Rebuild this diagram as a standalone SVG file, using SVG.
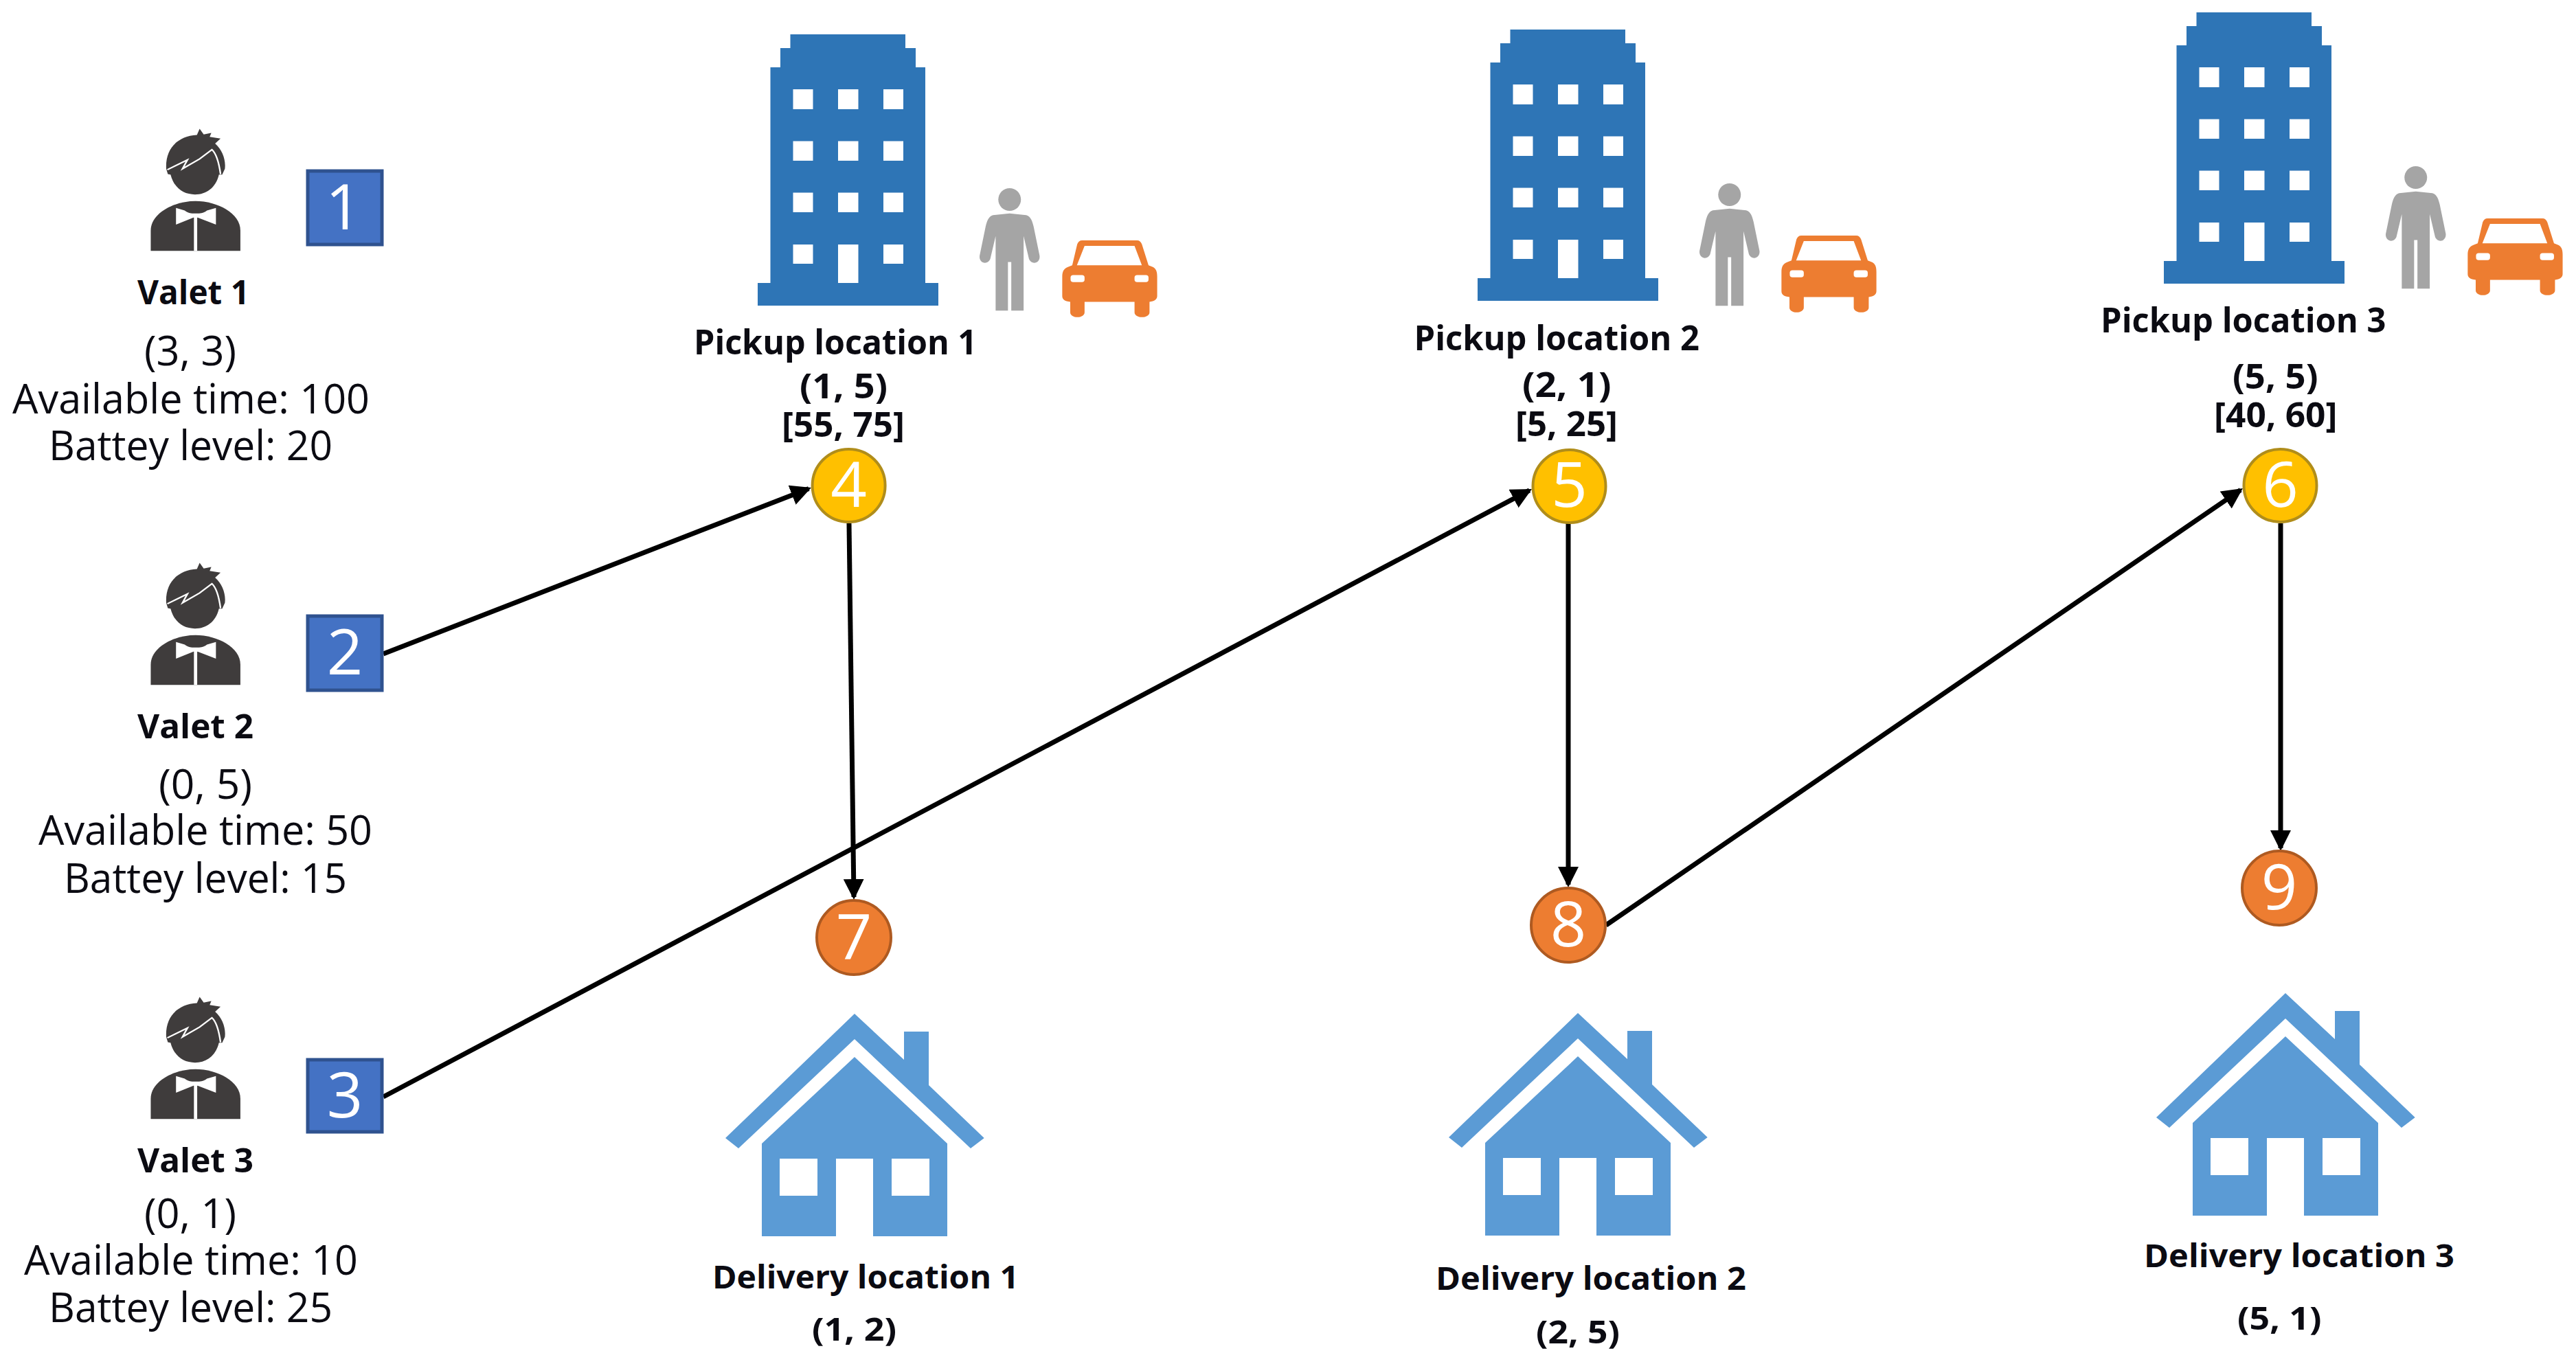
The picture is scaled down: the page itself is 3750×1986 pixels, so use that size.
<svg xmlns="http://www.w3.org/2000/svg" xmlns:xlink="http://www.w3.org/1999/xlink" width="3750" height="1986" viewBox="0 0 3750 1986">
<style>
text{font-family:"Open Sans","Noto Sans","Liberation Sans",sans-serif;fill:#0b0b12}
.r{font-size:61px}
.b{font-size:50px;font-weight:700}
.d{font-size:47px;font-weight:700}
.v{font-size:48px;font-weight:700}
.n{font-size:92px;fill:#fff;text-anchor:middle}
.sq{fill:#4472C4;stroke:#2F528F;stroke-width:5}
.y{fill:#FFC000;stroke:#B08D1A;stroke-width:4}
.o{fill:#ED7D31;stroke:#AE5A21;stroke-width:4}
.c{stroke:#000;stroke-width:7;fill:none;marker-end:url(#ah)}
</style>
<defs>
<marker id="ah" markerUnits="userSpaceOnUse" viewBox="0 0 30 30" refX="26" refY="15" markerWidth="30" markerHeight="30" orient="auto"><path d="M0 0L30 15L0 30Z" fill="#000"/></marker>
<g id="valet" transform="translate(0,150) scale(.3954,.3571)">
<path fill="#3F3C3C" d="M612 268C608 190 650 135 725 130L735 105L750 128L778 122L772 138L812 145L792 165C818 190 832 230 828 268L818 292L806 292C795 345 760 373 718 373C675 373 640 345 628 292L618 290Z"/>
<path fill="none" stroke="#fff" stroke-width="6" d="M616 272L690 232L672 268L735 228L780 190C795 205 805 235 812 290"/>
<path fill="#3F3C3C" d="M555 603L555 520C555 450 640 400 720 400C800 400 885 450 885 520L885 603Z"/>
<path fill="#fff" d="M648 428L680 438C695 450 705 450 714 450L714 466L648 496ZM795 428L762 438C748 450 735 450 726 450L726 466L795 496ZM714 450H726V603H714Z"/>
</g>
<g id="bld"><path fill="#2E75B6" fill-rule="evenodd" d="M1150.5 50H1318V70H1333V98H1347V412H1366V445H1103V412H1121.5V98H1136V70H1150.5ZM1154.5 130V159H1183.5V130ZM1220 130V159H1249.5V130ZM1286 130V159H1315V130ZM1154.5 205.5V234H1183.5V205.5ZM1220 205.5V234H1249.5V205.5ZM1286 205.5V234H1315V205.5ZM1154.5 280.5V309H1183.5V280.5ZM1220 280.5V309H1249.5V280.5ZM1286 280.5V309H1315V280.5ZM1154.5 356V384H1183.5V356ZM1220 356V412H1249.5V356ZM1286 356V384H1315V356Z"/></g>
<g id="ppl" transform="translate(980,30) scale(.4849,.4719)"><ellipse cx="1010" cy="552" rx="34" ry="35" fill="#A5A5A5"/><path fill="#A5A5A5" d="M1010 595L1060 600C1075 605 1078 620 1082 635L1100 725C1103 750 1075 755 1068 735L1052 665V895H1015V745H1005V895H968V665L952 735C945 755 917 750 920 725L938 635C942 620 945 605 960 600Z"/></g>
<g id="car" transform="translate(980,30) scale(.4849,.4719)"><path fill="#ED7D31" fill-rule="evenodd" d="M1228 678H1392C1400 678 1404 682 1407 690L1427 755L1440 760C1450 765 1453 775 1453 790V850C1453 860 1445 866 1430 868V900C1430 920 1385 920 1385 900V868H1235V900C1235 920 1192 920 1192 900V868C1175 866 1168 860 1168 850V790C1168 775 1172 765 1185 760L1198 755L1213 690C1216 682 1220 678 1228 678ZM1235 695L1212 755H1407L1385 695Z"/><rect x="1193" y="785" width="42" height="22" rx="8" fill="#fff"/><rect x="1385" y="785" width="42" height="22" rx="8" fill="#fff"/></g>
<g id="hse"><path fill="#5B9BD5" d="M1244 1476L1316 1543V1502H1352V1580L1432.7 1657L1413 1672L1244 1513L1075 1672L1056 1657Z"/><path fill="#5B9BD5" fill-rule="evenodd" d="M1244 1539L1379 1665V1800H1271V1687H1217V1800H1109V1665ZM1135 1687V1741H1190V1687ZM1298 1687V1741H1353V1687Z"/></g>
</defs>
<g id="connectors">
<line class="c" x1="558" y1="952" x2="1177.3" y2="711.4"/>
<line class="c" x1="558" y1="1597" x2="2226.5" y2="713.9"/>
<line class="c" x1="2338" y1="1347" x2="3261.7" y2="713.3"/>
<line class="c" x1="1236" y1="762" x2="1243" y2="1306"/>
<line class="c" x1="2283" y1="762" x2="2283" y2="1288"/>
<line class="c" x1="3320" y1="762" x2="3320" y2="1235"/>
</g>
<g id="valet1"><use href="#valet"/><text class="v" x="200" y="443" textLength="163" lengthAdjust="spacingAndGlyphs">Valet 1</text><text class="r" x="210" y="532" textLength="134" lengthAdjust="spacingAndGlyphs">(3, 3)</text><text class="r" x="18" y="602" textLength="520" lengthAdjust="spacingAndGlyphs">Available time: 100</text><text class="r" x="71" y="670" textLength="413" lengthAdjust="spacingAndGlyphs">Battey level: 20</text></g>
<g id="valet2"><use href="#valet" y="632"/><text class="v" x="200" y="1075" textLength="169" lengthAdjust="spacingAndGlyphs">Valet 2</text><text class="r" x="231" y="1162.5" textLength="136" lengthAdjust="spacingAndGlyphs">(0, 5)</text><text class="r" x="56" y="1230" textLength="486" lengthAdjust="spacingAndGlyphs">Available time: 50</text><text class="r" x="93" y="1300" textLength="412" lengthAdjust="spacingAndGlyphs">Battey level: 15</text></g>
<g id="valet3"><use href="#valet" y="1264"/><text class="v" x="200" y="1707" textLength="169" lengthAdjust="spacingAndGlyphs">Valet 3</text><text class="r" x="210" y="1787.5" textLength="134" lengthAdjust="spacingAndGlyphs">(0, 1)</text><text class="r" x="35" y="1856" textLength="486" lengthAdjust="spacingAndGlyphs">Available time: 10</text><text class="r" x="71" y="1925" textLength="413" lengthAdjust="spacingAndGlyphs">Battey level: 25</text></g>
<g id="node1"><rect class="sq" x="448" y="249" width="108" height="107"/><text class="n" x="500" y="334">1</text></g>
<g id="node2"><rect class="sq" x="448" y="897" width="108" height="108"/><text class="n" x="502" y="982">2</text></g>
<g id="node3"><rect class="sq" x="448" y="1543" width="108" height="105"/><text class="n" x="502" y="1627">3</text></g>
<g id="node4"><circle class="y" cx="1235.6" cy="707" r="53"/><text class="n" x="1235.6" y="738">4</text></g>
<g id="node5"><circle class="y" cx="2284.5" cy="708" r="53"/><text class="n" x="2284.5" y="738">5</text></g>
<g id="node6"><circle class="y" cx="3319.5" cy="707" r="53"/><text class="n" x="3319.5" y="738">6</text></g>
<g id="node7"><circle class="o" cx="1243" cy="1365" r="54"/><text class="n" x="1243" y="1397">7</text></g>
<g id="node8"><circle class="o" cx="2283" cy="1347" r="54"/><text class="n" x="2283" y="1378">8</text></g>
<g id="node9"><circle class="o" cx="3318" cy="1293" r="54"/><text class="n" x="3318" y="1324">9</text></g>
<g id="pickup1"><use href="#bld"/><use href="#ppl"/><use href="#car"/><text class="b" x="1010" y="516" textLength="412" lengthAdjust="spacingAndGlyphs">Pickup location 1</text><text class="b" x="1164" y="580" textLength="128" lengthAdjust="spacingAndGlyphs">(1, 5)</text><text class="b" x="1138" y="636" textLength="179" lengthAdjust="spacingAndGlyphs">[55, 75]</text></g>
<g id="pickup2"><use href="#bld" x="1048" y="-7"/><use href="#ppl" x="1048" y="-7"/><use href="#car" x="1047" y="-7"/><text class="b" x="2058.5" y="509.5" textLength="415.5" lengthAdjust="spacingAndGlyphs">Pickup location 2</text><text class="b" x="2216" y="577.5" textLength="129.5" lengthAdjust="spacingAndGlyphs">(2, 1)</text><text class="b" x="2206" y="634.5" textLength="149" lengthAdjust="spacingAndGlyphs">[5, 25]</text></g>
<g id="pickup3"><use href="#bld" x="2047" y="-32"/><use href="#ppl" x="2047" y="-32"/><use href="#car" x="2046" y="-32"/><text class="b" x="3058" y="484" textLength="415.5" lengthAdjust="spacingAndGlyphs">Pickup location 3</text><text class="b" x="3250" y="566" textLength="124.5" lengthAdjust="spacingAndGlyphs">(5, 5)</text><text class="b" x="3223" y="622" textLength="179.5" lengthAdjust="spacingAndGlyphs">[40, 60]</text></g>
<g id="delivery1"><use href="#hse"/><text class="d" x="1037" y="1876" textLength="446" lengthAdjust="spacingAndGlyphs">Delivery location 1</text><text class="d" x="1182" y="1952" textLength="123" lengthAdjust="spacingAndGlyphs">(1, 2)</text></g>
<g id="delivery2"><use href="#hse" x="1053" y="-1"/><text class="d" x="2090" y="1877.5" textLength="452" lengthAdjust="spacingAndGlyphs">Delivery location 2</text><text class="d" x="2236" y="1956" textLength="122" lengthAdjust="spacingAndGlyphs">(2, 5)</text></g>
<g id="delivery3"><use href="#hse" x="2083" y="-30"/><text class="d" x="3121" y="1845" textLength="452" lengthAdjust="spacingAndGlyphs">Delivery location 3</text><text class="d" x="3257" y="1936" textLength="122.5" lengthAdjust="spacingAndGlyphs">(5, 1)</text></g>
</svg>
